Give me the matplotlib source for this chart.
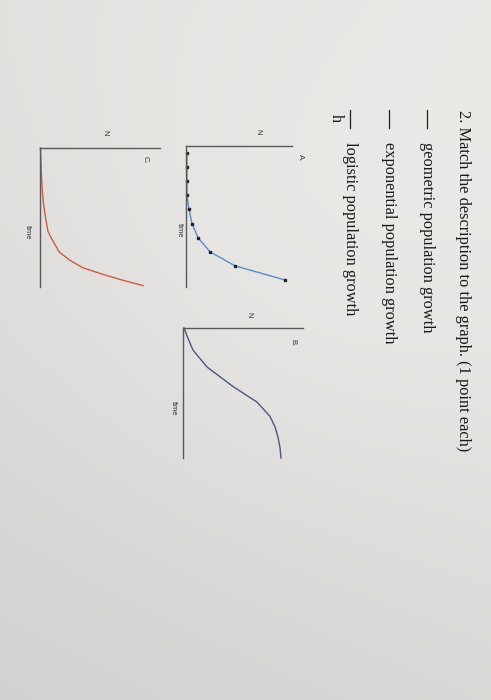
import numpy as np
import matplotlib
matplotlib.use("Agg")
import matplotlib.pyplot as plt

W, H = 491, 700

# ---- data ----
a_time = [0.5, 1.5, 2.5, 3.5, 4.5, 5.5, 6.5, 7.5, 8.5, 9.5]
a_N = [0, 0, 0, 0, 2, 5, 11, 23, 48, 98]

b_time = [0, 0.8, 1.7, 3.0, 4.5, 5.7, 6.8, 7.6, 8.4, 9.2, 10]
b_N = [1, 5, 10, 24, 50, 74, 87, 92, 95, 97, 98]

c_time = [0, 1, 2, 3, 4, 5, 6, 6.5, 7.5, 8.1, 8.6, 9.1, 9.5, 9.9]
c_N = [0, 0.5, 1, 1.7, 3, 5, 7.5, 11, 19, 30, 42, 63, 82, 103]

title = "2. Match the description to the graph. (1 point each)"
options = ["geometric population growth", "exponential population growth",
           "logistic population growth"]

fig = plt.figure(figsize=(W / 100, H / 100), dpi=100)
bg = fig.add_axes([0, 0, 1, 1])
bg.set_xlim(0, W); bg.set_ylim(H, 0); bg.axis("off")
# soft paper gradient
yy, xx = np.mgrid[0:H:4, 0:W:4]
shade = 0.915 - 0.06 * (yy / H) ** 1.5 - 0.03 * (1 - xx / W) + 0.02 * np.exp(-((xx - 300) ** 2 + (yy - 250) ** 2) / 60000)
bg.imshow(np.dstack([shade, shade * 0.995, shade * 0.985]), extent=[0, W, H, 0], aspect="auto", zorder=0)

serif = "Liberation Serif"
fs = 11.8
bg.text(463, 110, title, rotation=-90, ha="center", va="top", fontsize=fs, family=serif, color="#1a1a1a")
for xc, txt in zip([426, 388, 349], options):
    bg.plot([xc + 1, xc + 1], [110, 128], color="#222", lw=0.9)
    bg.text(xc + 1, 142, txt, rotation=-90, ha="center", va="top", fontsize=fs, family=serif, color="#1a1a1a")
bg.text(336, 114, "h", rotation=-90, ha="center", va="top", fontsize=fs, family=serif, color="#1a1a1a")

def panel(l, r, t, b):
    ax = fig.add_axes([l / W, 1 - b / H, (r - l) / W, (b - t) / H])
    ax.patch.set_alpha(0)
    for s in ["right", "bottom"]:
        ax.spines[s].set_visible(False)
    for s in ["top", "left"]:
        ax.spines[s].set_color("#5a5a5a"); ax.spines[s].set_linewidth(1)
    ax.set_xticks([]); ax.set_yticks([])
    ax.set_ylim(10, 0)
    return ax

axA = panel(186, 292, 146, 287)
axA.set_xlim(-1, 105)
axA.plot(a_N, a_time, color="#5b8bd0", lw=1, marker="s", ms=2, mfc="#223", mec="#223", clip_on=False)

axB = panel(183, 303, 328, 458)
axB.set_xlim(0, 120)
axB.plot(b_N, b_time, color="#50557e", lw=1, clip_on=False)

axC = panel(40, 160, 148, 287)
axC.set_xlim(-0.5, 120)
axC.plot(c_N, c_time, color="#cc5a45", lw=1, clip_on=False)

lab = dict(rotation=-90, ha="center", va="center", fontsize=5.5, family="Liberation Sans", color="#333")
for x, y, s in [(300, 158, "A."), (258, 132, "N"), (179, 230, "time"),
                (293, 343, "B."), (249, 315, "N"), (173, 408, "time"),
                (145, 160, "C."), (105, 133, "N"), (27, 232, "time")]:
    bg.text(x, y, s, **lab)

fig.savefig("out.png", dpi=100)
